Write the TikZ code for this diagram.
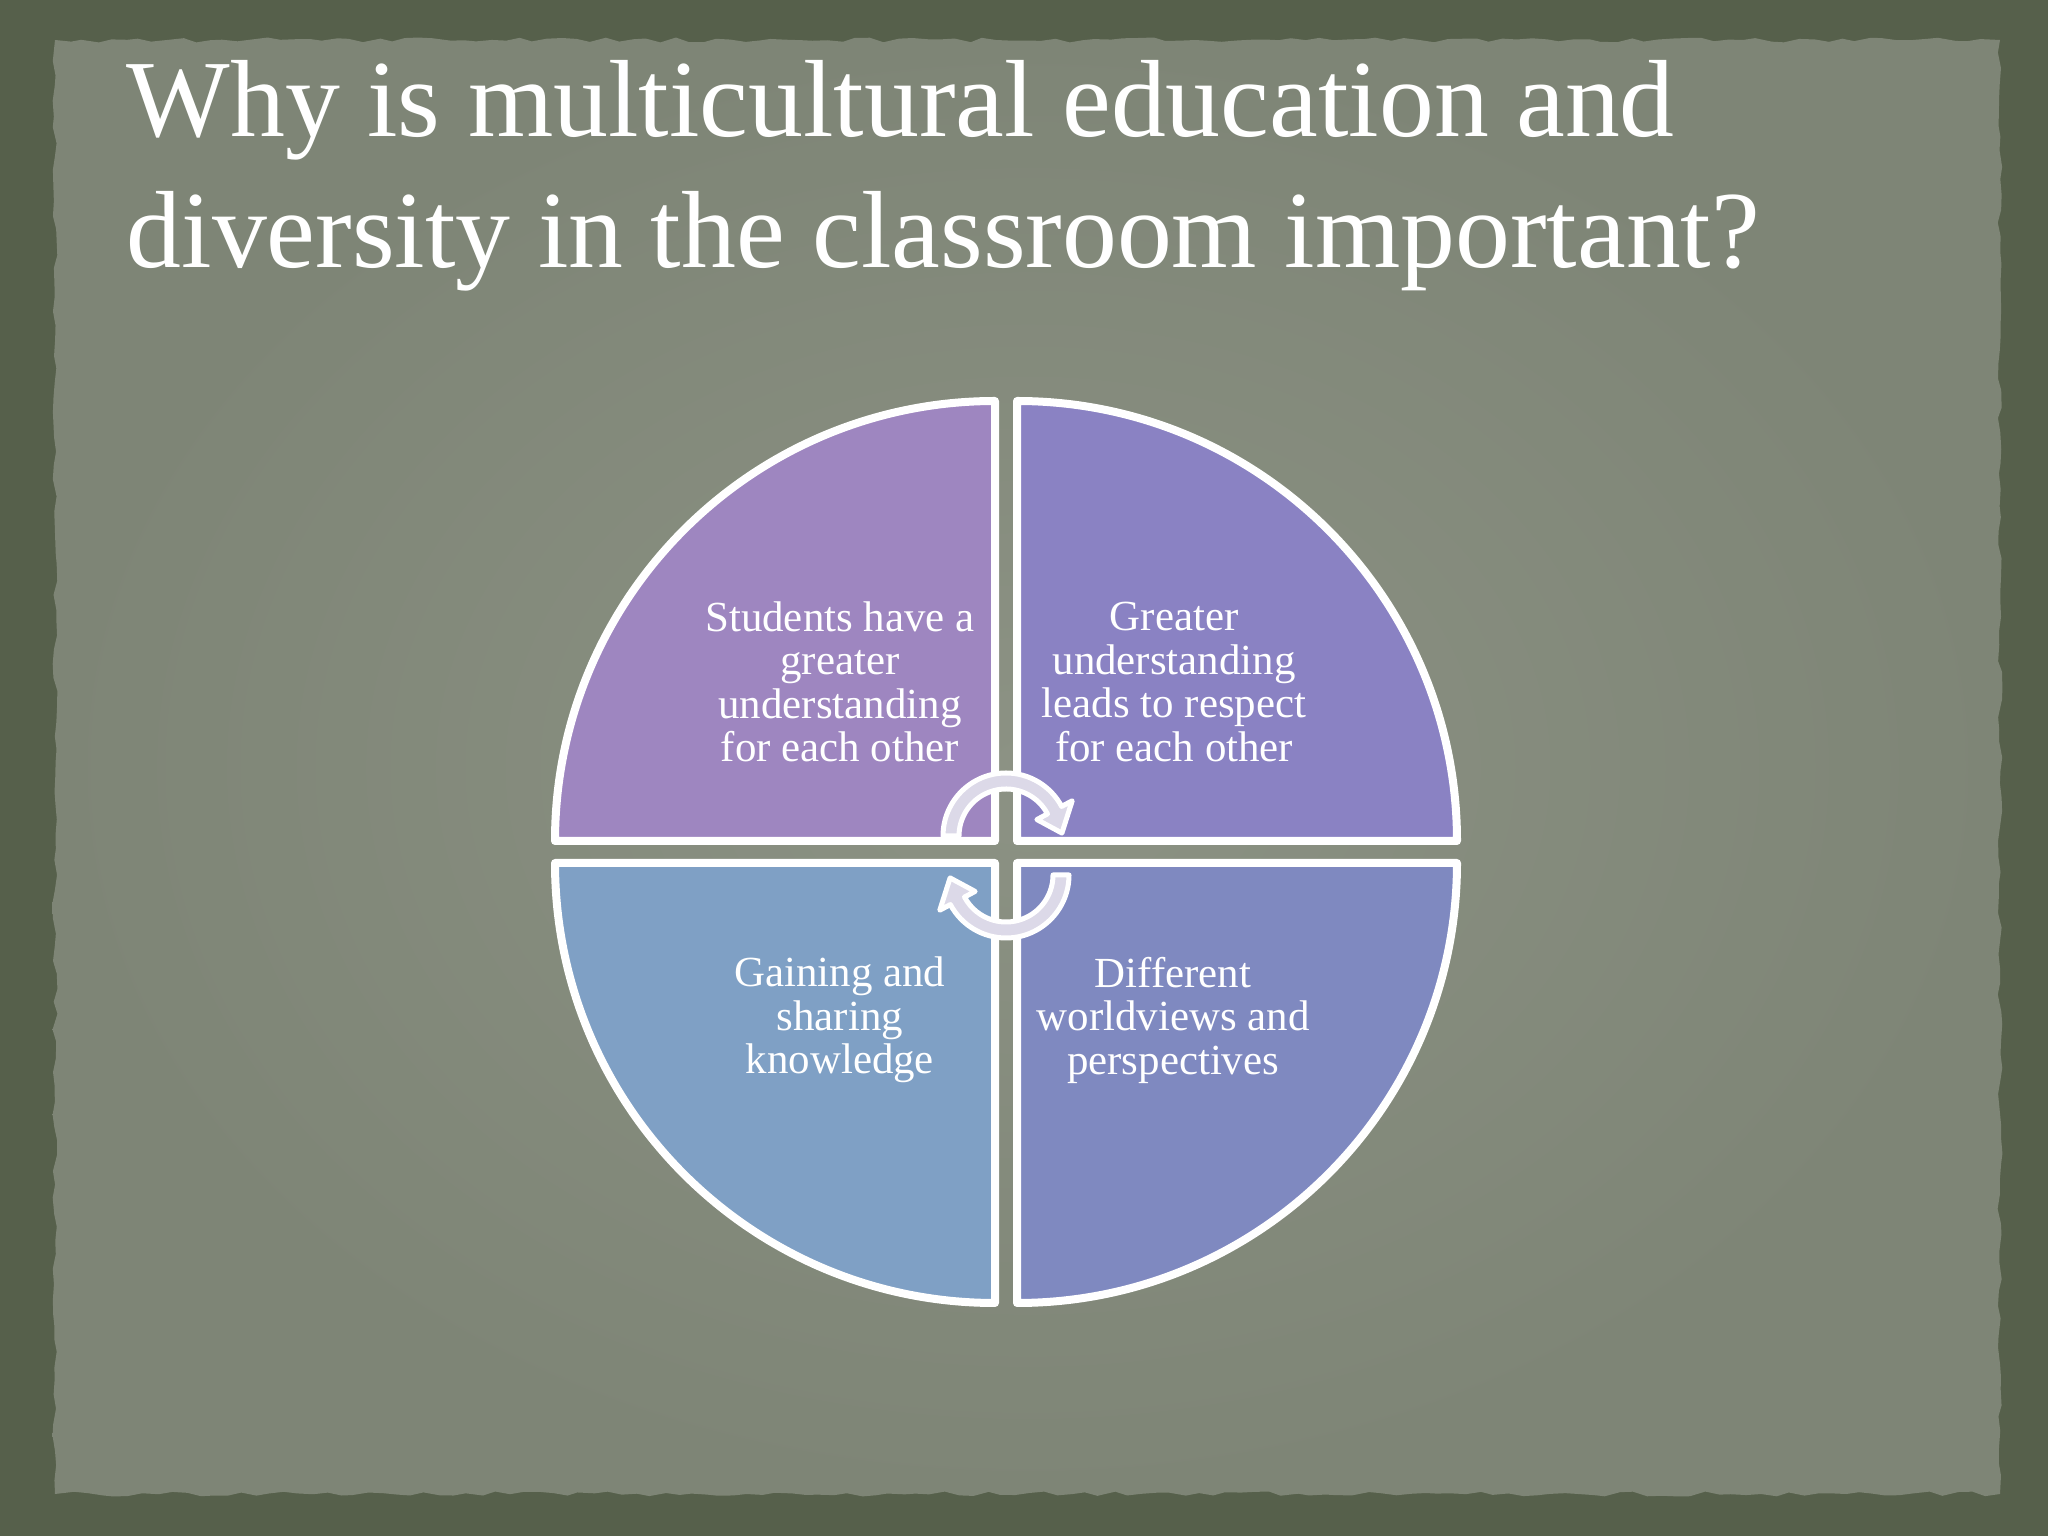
\documentclass[tikz,border=0pt]{standalone}
\usepackage{fontspec}
\setmainfont{Liberation Serif}
\usetikzlibrary{positioning}
\usetikzlibrary{calc}
\usetikzlibrary{decorations.pathmorphing}
\definecolor{frame}{HTML}{56604B}
\definecolor{paperlo}{HTML}{7E8576}
\definecolor{paperhi}{HTML}{8C9284}
\definecolor{quadA}{HTML}{9E86C0}
\definecolor{quadB}{HTML}{8A82C3}
\definecolor{quadC}{HTML}{7FA0C5}
\definecolor{quadD}{HTML}{7F89C0}
\definecolor{ringfill}{HTML}{DCD9E8}
\tikzstyle{quad} = [draw=white, line width=0.08cm, line join=round]
\tikzstyle{ring} = [fill=ringfill, draw=white, line width=0.05cm, line join=round]
\tikzstyle{qtext} = [text=white, align=center, inner sep=0pt,
font=\fontsize{12.2}{12.4}\selectfont]
\tikzstyle{title} = [text=white, align=left, inner sep=0pt,
font=\fontsize{31.2}{37.3}\selectfont]
\newcommand{\turn}[4]{ %
  % ring arrow round #1, from #2 to #3, head tip at #4
  \draw[ring] ($(#1)+(#2:47)$) -- ($(#1)+(#2:63)$)
    arc[start angle=#2, end angle=#3, radius=63]
    -- ($(#1)+(#3:75)$) -- ($(#1)+(#4:56)$) -- ($(#1)+(#3:35)$)
    -- ($(#1)+(#3:47)$) arc[start angle=#3, end angle=#2, radius=47] -- cycle ;%
}
\begin{document}
\begin{tikzpicture}[x=0.01cm, y=0.01cm]
				\useasboundingbox (0,0) rectangle (2048,1536);
				\fill[frame] (0,0) rectangle (2048,1536);
				\pgfmathsetseed{7}
				\shade[inner color=paperhi, outer color=paperlo, decorate,
				  decoration={random steps, segment length=4pt, amplitude=0.7pt}]
				  (55,42) rectangle (2000,1496);

				\node[title, anchor=base west] (head) at (126,1268)
				  {Why is multicultural education and\\diversity in the classroom important?};

				\coordinate (hub) at (1006,684);
				\draw[quad, fill=quadA] ($(hub)+(-11,11)$) -- ++(0,440)
				  arc[start angle=90, end angle=180, radius=440] -- cycle;
				\draw[quad, fill=quadB] ($(hub)+(11,11)$) -- ++(440,0)
				  arc[start angle=0, end angle=90, radius=440] -- cycle;
				\draw[quad, fill=quadC] ($(hub)+(-11,-11)$) -- ++(-440,0)
				  arc[start angle=180, end angle=270, radius=440] -- cycle;
				\draw[quad, fill=quadD] ($(hub)+(11,-11)$) -- ++(0,-440)
				  arc[start angle=270, end angle=360, radius=440] -- cycle;

				\node[qtext, xshift=-1.66cm, yshift=1.70cm] (understand) at (hub)
				  {Students have a\\greater\\understanding\\for each other};
				\node[qtext, xshift=1.68cm, yshift=1.70cm] (respect) at (hub)
				  {Greater\\understanding\\leads to respect\\for each other};
				\node[qtext, xshift=1.67cm, yshift=-1.68cm] (views) at (hub)
				  {Different\\worldviews and\\perspectives};
				\node[qtext, xshift=-1.66cm, yshift=-1.68cm] (knowledge) at (hub)
				  {Gaining and\\sharing\\knowledge};

				\coordinate (topring) at (1006,700);
				\coordinate (botring) at (1006,661);
				\turn{topring}{180}{28}{3}
				\turn{botring}{360}{208}{183}
            \end{tikzpicture}
\end{document}
